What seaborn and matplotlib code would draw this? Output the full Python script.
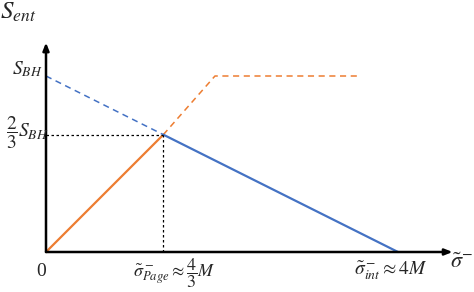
import matplotlib
matplotlib.use("Agg")
import matplotlib.pyplot as plt
import seaborn as sns
import pandas as pd

# Data (x in units of M, y in units of S_BH)
orange_x = [0.0, 4/3]
orange_y = [0.0, 2/3]
orange_dash_x = [4/3, 1.92, 3.55]
orange_dash_y = [2/3, 1.0, 1.0]
blue_dash_x = [0.0, 4/3]
blue_dash_y = [1.0, 2/3]
blue_x = [4/3, 4.0]
blue_y = [2/3, 0.0]
page_x = 4/3
page_y = 2/3

sns.set_style("white")
plt.rcParams['mathtext.fontset'] = 'stix'
plt.rcParams['font.family'] = ['DejaVu Sans']

fig = plt.figure(figsize=(4.74, 2.92), dpi=100)
ax = fig.add_axes([0, 0, 1, 1])
ax.set_xlim(-46/88, (474-46)/88)
ax.set_ylim(-40/176, 252/176)
for s in ax.spines.values():
    s.set_visible(False)
ax.set_xticks([]); ax.set_yticks([])

orange = "#ED7D31"
blue = "#4472C4"

sns.lineplot(x=orange_x, y=orange_y, ax=ax, color=orange, lw=1.6, sort=False)
sns.lineplot(x=orange_dash_x, y=orange_dash_y, ax=ax, color=orange, lw=1.1,
             sort=False, linestyle=(0, (4, 3)))
sns.lineplot(x=blue_dash_x, y=blue_dash_y, ax=ax, color=blue, lw=1.1,
             sort=False, linestyle=(0, (4, 3)))
sns.lineplot(x=blue_x, y=blue_y, ax=ax, color=blue, lw=1.6, sort=False)

# dotted guide lines
ax.plot([0, page_x], [page_y, page_y], color="black", lw=0.9, linestyle=(0, (2, 2)))
ax.plot([page_x, page_x], [0, page_y], color="black", lw=0.9, linestyle=(0, (2, 2)))

# axes arrows
ax.annotate("", xy=(4.62, 0), xytext=(0, 0),
            arrowprops=dict(arrowstyle="-|>,head_length=0.45,head_width=0.18", color="black", lw=1.8, shrinkA=0, shrinkB=0))
ax.annotate("", xy=(0, 1.19), xytext=(0, 0),
            arrowprops=dict(arrowstyle="-|>,head_length=0.45,head_width=0.18", color="black", lw=1.8, shrinkA=0, shrinkB=0))

def px(xp, yp):
    return ((xp - 46) / 88, (252 - yp) / 176)

ax.text(*px(0, 12), r"$S_{ent}$", fontsize=18, ha="left", va="center")
ax.text(*px(12, 69), r"$S_{BH}$", fontsize=14, ha="left", va="center")
ax.text(*px(6, 133), r"$\dfrac{2}{3}S_{BH}$", fontsize=14, ha="left", va="center")
ax.text(*px(41, 271), "0", fontsize=14, ha="center", va="center",
        family="Liberation Serif")
ax.text(*px(174, 273), r"$\tilde{\sigma}^-_{Page}\approx\dfrac{4}{3}M$", fontsize=13,
        ha="center", va="center")
ax.text(*px(391, 271), r"$\tilde{\sigma}^-_{int}\approx 4M$", fontsize=14,
        ha="center", va="center")
ax.text(*px(450, 262), r"$\tilde{\sigma}^{-}$", fontsize=16, ha="left", va="center")

fig.savefig("out.png", dpi=100)
